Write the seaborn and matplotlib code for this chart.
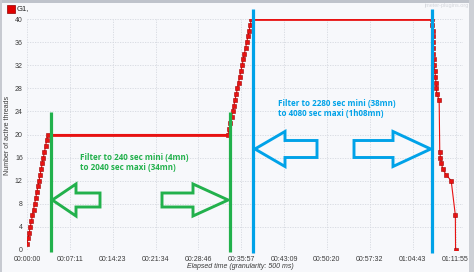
import numpy as np
import pandas as pd
import matplotlib
matplotlib.use("Agg")
import matplotlib.pyplot as plt
import seaborn as sns
from matplotlib.patches import Polygon, Rectangle

# ---------------- data (elapsed seconds, active threads) ----------------
ramp1_time_s = [0, 11, 22, 33, 44, 55, 66, 77, 88, 99, 110, 121, 132, 143, 154,
                165, 176, 187, 198, 209]
ramp1_threads = [1, 2, 3, 4, 5, 6, 7, 8, 9, 10, 11, 12, 13, 14, 15,
                 16, 17, 18, 19, 20]
ramp2_time_s = [2024, 2036, 2048, 2060, 2071, 2083, 2095, 2107, 2119, 2130, 2142,
                2154, 2166, 2178, 2189, 2201, 2213, 2225, 2237, 2248, 2260]
ramp2_threads = [20, 21, 22, 23, 24, 25, 26, 27, 28, 29, 30,
                 31, 32, 33, 34, 35, 36, 37, 38, 39, 40]
rampdown_time_s = [4080, 4082, 4084, 4086, 4087, 4088, 4090, 4096, 4101, 4106,
                   4113, 4118, 4122, 4126, 4150, 4156, 4163, 4173, 4186, 4221,
                   4271, 4313, 4315]
rampdown_threads = [40, 39, 38, 37, 36, 35, 34, 33, 32, 31,
                    30, 29, 28, 27, 26, 17, 16, 15, 14, 13,
                    12, 6, 0]

tick_seconds = [0, 431, 863, 1294, 1726, 2157, 2589, 3020, 3452, 3883, 4315]
tick_labels = ["00:00:00", "00:07:11", "00:14:23", "00:21:34", "00:28:46",
               "00:35:57", "00:43:09", "00:50:20", "00:57:32", "01:04:43",
               "01:11:55"]
y_ticks = [0, 4, 8, 12, 16, 20, 24, 28, 32, 36, 40]

green_filter_s = [240, 2040]
blue_filter_s = [2280, 4080]
green_text = ["Filter to 240 sec mini (4mn)", "to 2040 sec maxi (34mn)"]
blue_text = ["Filter to 2280 sec mini (38mn)", "to 4080 sec maxi (1h08mn)"]

df = pd.DataFrame({
    "t": ramp1_time_s + ramp2_time_s + rampdown_time_s,
    "threads": ramp1_threads + ramp2_threads + rampdown_threads,
})

# ---------------- figure ----------------
W, H = 474, 272
BG = "#F7F8FB"
RED = "#E81212"
GREEN = "#22B14C"
BLUE = "#00A2E8"

sns.set_style("white")
plt.rcParams["font.family"] = ["Liberation Sans", "DejaVu Sans"]

fig = plt.figure(figsize=(W / 100, H / 100), dpi=100)
fig.patch.set_facecolor(BG)

ax_l, ax_r, ax_t, ax_b = 27, 463, 19, 250
ax = fig.add_axes([ax_l / W, 1 - ax_b / H, (ax_r - ax_l) / W, (ax_b - ax_t) / H])
ax.set_facecolor(BG)
ax.set_xlim(0, 4390)
ax.set_ylim(0, 40)

ax.grid(True, color="#D5D8DF", linestyle=(0, (1.5, 1.5)), lw=0.6)
ax.set_axisbelow(True)
for s in ax.spines.values():
    s.set_visible(False)

# data line with markers
sns.lineplot(data=df, x="t", y="threads", ax=ax, color=RED, lw=0.8,
             marker="s", markersize=2.2, markeredgewidth=0.4,
             markeredgecolor="#A00000", estimator=None, sort=False,
             legend=False, zorder=3)
# plateaus drawn thicker
tt = df["t"].to_numpy()
vv = df["threads"].to_numpy()
for i in range(len(tt) - 1):
    if vv[i] == vv[i + 1]:
        ax.plot([tt[i], tt[i + 1]], [vv[i], vv[i + 1]], color=RED, lw=2.0,
                solid_capstyle="butt", zorder=3)

ax.set_xticks(tick_seconds)
ax.set_xticklabels(tick_labels)
ax.set_yticks(y_ticks)
ax.tick_params(axis="both", length=0, labelsize=5, colors="#3A3A3A")
ax.tick_params(axis="x", pad=4)
ax.tick_params(axis="y", pad=3)
ax.set_xlabel("")
ax.set_ylabel("")

fig.text(240 / W, 1 - 266 / H, "Elapsed time (granularity: 500 ms)",
         fontsize=5, style="italic", color="#3A3A3A", ha="center", va="center")
fig.text(8 / W, 1 - 135 / H, "Number of active threads", fontsize=5,
         color="#3A3A3A", rotation=90, ha="center", va="center")

# legend
fig.patches.append(Rectangle((7 / W, 1 - 13 / H), 8 / W, 8 / H,
                             transform=fig.transFigure, facecolor="#E00000",
                             edgecolor="#900000", lw=0.5))
fig.text(17 / W, 1 - 9 / H, "G1,", fontsize=5.5, color="#222222",
         ha="left", va="center")
fig.text(468 / W, 1 - 6 / H, "jmeter-plugins.org", fontsize=4,
         color="#D4D6DC", ha="right", va="center")

# outer frame
fig.patches.append(Rectangle((0, 1 - 3 / H), 1, 3 / H, transform=fig.transFigure,
                             facecolor="#BFC3CB", edgecolor="none"))
fig.patches.append(Rectangle((0, 0), 2 / W, 1, transform=fig.transFigure,
                             facecolor="#C7CAD1", edgecolor="none"))
fig.patches.append(Rectangle((1 - 5 / W, 0), 5 / W, 1, transform=fig.transFigure,
                             facecolor="#CDD0D6", edgecolor="none"))

# ---------------- annotations ----------------
px_per_unit = (ax_b - ax_t) / 40.0
sec_per_px = 4390 / (ax_r - ax_l)


def yval(py):
    return (ax_b - py) / px_per_unit


def tval(px):
    return (px - ax_l) * sec_per_px


for t in green_filter_s:
    ax.plot([t, t], [yval(112), yval(252)], color=GREEN, lw=2.3,
            solid_capstyle="butt", clip_on=False, zorder=5)
for t in blue_filter_s:
    ax.plot([t, t], [yval(9), yval(253)], color=BLUE, lw=2.3,
            solid_capstyle="butt", clip_on=False, zorder=5)


def arrow(tip_t, head_back_t, tail_t, yc_px, head_half_px, shaft_half_px, color):
    yc = yval(yc_px)
    hh = head_half_px / px_per_unit
    sh = shaft_half_px / px_per_unit
    pts = [(tip_t, yc), (head_back_t, yc + hh), (head_back_t, yc + sh),
           (tail_t, yc + sh), (tail_t, yc - sh), (head_back_t, yc - sh),
           (head_back_t, yc - hh)]
    ax.add_patch(Polygon(pts, closed=True, facecolor="none", edgecolor=color,
                         lw=2.1, joinstyle="miter", zorder=4))


arrow(green_filter_s[0] + 15, tval(76), tval(100), 200, 16, 7, GREEN)
arrow(green_filter_s[1] - 15, tval(193), tval(162), 200, 16, 7, GREEN)
arrow(blue_filter_s[0] + 15, tval(285), tval(317), 149, 17.5, 8.5, BLUE)
arrow(blue_filter_s[1] - 15, tval(393), tval(354), 149, 17.5, 8.5, BLUE)

for i, line in enumerate(green_text):
    ax.text(tval(80), yval(157 + 11 * i), line, color=GREEN, fontsize=5.75,
            fontweight="bold", ha="left", va="center", family=["Open Sans", "DejaVu Sans"])
for i, line in enumerate(blue_text):
    ax.text(tval(278), yval(103 + 10.5 * i), line, color=BLUE, fontsize=5.75,
            fontweight="bold", ha="left", va="center", family=["Open Sans", "DejaVu Sans"])

fig.savefig("out.png", dpi=100, facecolor=fig.get_facecolor())
